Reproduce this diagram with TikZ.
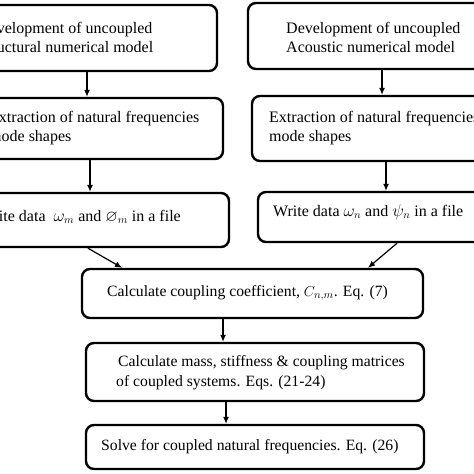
\documentclass[tikz,border=0pt]{standalone}
\usepackage{amssymb}
\usepackage{amsmath}
\usepackage{fontspec}
\setmainfont{Liberation Serif}
\usetikzlibrary{arrows.meta}
\tikzset{box/.style={draw,line width=2.4pt,rounded corners=8pt,inner sep=0pt},
  txt/.style={anchor=west,align=left,inner sep=0pt,font=\fontsize{16}{19}\selectfont},
  ctxt/.style={txt,font=\fontsize{15.7}{20}\selectfont},
  arr/.style={-{Latex[length=7pt,width=6pt]},line width=1.2pt}}

\begin{document}
\begin{tikzpicture}[x=1pt,y=-1pt]
      \useasboundingbox (0,0) rectangle (474,474);
      \clip (0,0) rectangle (474,474);
      % structural side
      \node[box,minimum width=307pt,minimum height=66pt] (sb1) at (63.5,38) {};
      \node[box,minimum width=313pt,minimum height=61pt] (sb2) at (66.5,128.5) {};
      \node[box,minimum width=319pt,minimum height=54pt] (sb3) at (69.5,220) {};
      \node[txt] (st1) at (-22,37.5) {Development of uncoupled\\Structural numerical model};
      \node[txt] (st2) at (-11,128) {Extraction of natural frequencies\\mode shapes};
      \node[txt] (st3) at (-21,217) {Write data\ \ $\omega_m$ and $\varnothing_m$ in a file};
      % acoustic side
      \node[box,minimum width=272pt,minimum height=66pt] (ab1) at (384,36) {};
      \node[box,minimum width=268pt,minimum height=65pt] (ab2) at (386,128.5) {};
      \node[box,minimum width=262pt,minimum height=50pt] (ab3) at (389,217) {};
      \node[txt] (at1) at (286,37) {Development of uncoupled\\Acoustic numerical model};
      \node[txt] (at2) at (269,128) {Extraction of natural frequencies\\mode shapes};
      \node[txt] (at3) at (273,212) {Write data $\omega_n$ and $\psi_n$ in a file};
      % coupled part
      \node[box,minimum width=341pt,minimum height=49pt] (cc) at (252.5,293.5) {};
      \node[box,minimum width=338pt,minimum height=58pt] (mat) at (255,372) {};
      \node[box,minimum width=338pt,minimum height=44pt] (sol) at (255,447) {};
      \node[ctxt] (cct) at (107,293) {Calculate coupling coefficient, $C_{n,m}$. Eq. (7)};
      \node[ctxt] (matt) at (116,373) {\hspace{2pt}Calculate mass, stiffness \& coupling matrices\\of coupled systems. Eqs. (21-24)};
      \node[ctxt] (solt) at (101,447) {Solve for coupled natural frequencies. Eq. (26)};
      % arrows
      \draw[arr] ([xshift=23.5pt]sb1.south) -- ([xshift=23.5pt]sb1.south |- sb2.north);
      \draw[arr] ([xshift=23.5pt]sb2.south) -- ([xshift=23.5pt]sb2.south |- sb3.north);
      \draw[arr] ([xshift=-2pt]ab1.south) -- ([xshift=-2pt]ab1.south |- ab2.north);
      \draw[arr] (ab2.south) -- (ab2.south |- ab3.north);
      \draw[arr] ([xshift=18.5pt]sb3.south) -- ([xshift=-130.5pt]cc.north);
      \draw[arr] ([xshift=8pt]ab3.south) -- ([xshift=115.5pt]cc.north);
      \draw[arr] ([xshift=-29.5pt]cc.south) -- ([xshift=-29.5pt]cc.south |- mat.north);
      \draw[arr] ([xshift=-29pt]mat.south) -- ([xshift=-29pt]mat.south |- sol.north);
\end{tikzpicture}
\end{document}
